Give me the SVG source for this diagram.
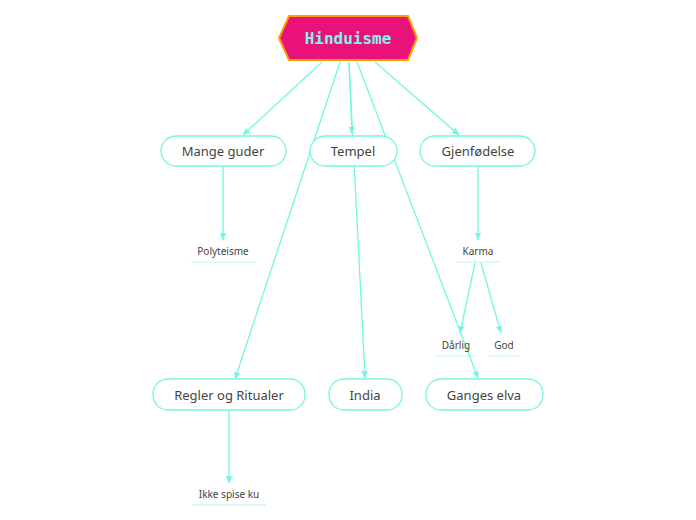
<svg xmlns="http://www.w3.org/2000/svg" width="696" height="520" viewBox="0 0 696 520">
<defs>
<marker id="a" viewBox="0 0 10 10" refX="9" refY="5" markerWidth="6" markerHeight="6" orient="auto"><path d="M0,1 L10,5 L0,9 z" fill="#72f7e0"/></marker>
<style>
.c{stroke:#72f7e0;stroke-width:1.3;fill:none;marker-end:url(#a)}
.n rect{fill:#fff;stroke:#72f7e0;stroke-width:1.3}
.n text{font-family:"Noto Sans","Open Sans",sans-serif;font-size:13px;fill:#444;text-anchor:middle}
.s text{font-family:"Noto Sans","Open Sans",sans-serif;font-size:10px;fill:#444;text-anchor:middle}
.s line{stroke:#b8f7ec;stroke-width:1}
</style>
</defs>
<rect width="696" height="520" fill="#fff"/>
<g id="connectors">
<line class="c" x1="322" y1="62" x2="243" y2="135"/>
<line class="c" x1="349" y1="62" x2="352" y2="134"/>
<line class="c" x1="375" y1="62" x2="459" y2="135"/>
<line class="c" x1="340" y1="62" x2="235" y2="379"/>
<line class="c" x1="349" y1="62" x2="365" y2="378"/>
<line class="c" x1="357" y1="62" x2="478" y2="378"/>
<line class="c" x1="223" y1="167" x2="223" y2="240"/>
<line class="c" x1="478" y1="167" x2="478" y2="240"/>
<line class="c" x1="475" y1="263" x2="460" y2="333"/>
<line class="c" x1="481" y1="263" x2="501" y2="333"/>
<line class="c" x1="229" y1="411" x2="229" y2="483"/>
</g>
<g id="hinduisme">
<polygon points="279,38 289,16 408,16 417,38 408,60 289,60" fill="#e8127a" stroke="#ff9d00" stroke-width="2"/>
<text x="348" y="44" font-family="DejaVu Sans Mono,monospace" font-weight="bold" font-size="16" fill="#7ff5e6" text-anchor="middle">Hinduisme</text>
</g>
<g id="mange" class="n"><rect x="161" y="136" width="125" height="30" rx="15"/><text x="223" y="156">Mange guder</text></g>
<g id="tempel" class="n"><rect x="310" y="136" width="87" height="30" rx="15"/><text x="353" y="156">Tempel</text></g>
<g id="gjen" class="n"><rect x="420" y="136" width="115" height="30" rx="15"/><text x="478" y="156">Gjenfødelse</text></g>
<g id="regler" class="n"><rect x="153" y="379" width="152" height="31" rx="15"/><text x="229" y="400">Regler og Ritualer</text></g>
<g id="india" class="n"><rect x="329" y="379" width="73" height="31" rx="15"/><text x="365" y="400">India</text></g>
<g id="ganges" class="n"><rect x="426" y="379" width="117" height="31" rx="15"/><text x="484" y="400">Ganges elva</text></g>
<g id="poly" class="s"><text x="223" y="255">Polyteisme</text><line x1="191" y1="262" x2="256" y2="262"/></g>
<g id="karma" class="s"><text x="478" y="255">Karma</text><line x1="456" y1="262" x2="500" y2="262"/></g>
<g id="darlig" class="s"><text x="456" y="349">Dårlig</text><line x1="436" y1="356" x2="476" y2="356"/></g>
<g id="god" class="s"><text x="504" y="349">God</text><line x1="488" y1="356" x2="520" y2="356"/></g>
<g id="ikke" class="s"><text x="229" y="498">Ikke spise ku</text><line x1="192" y1="505" x2="266" y2="505"/></g>
</svg>
